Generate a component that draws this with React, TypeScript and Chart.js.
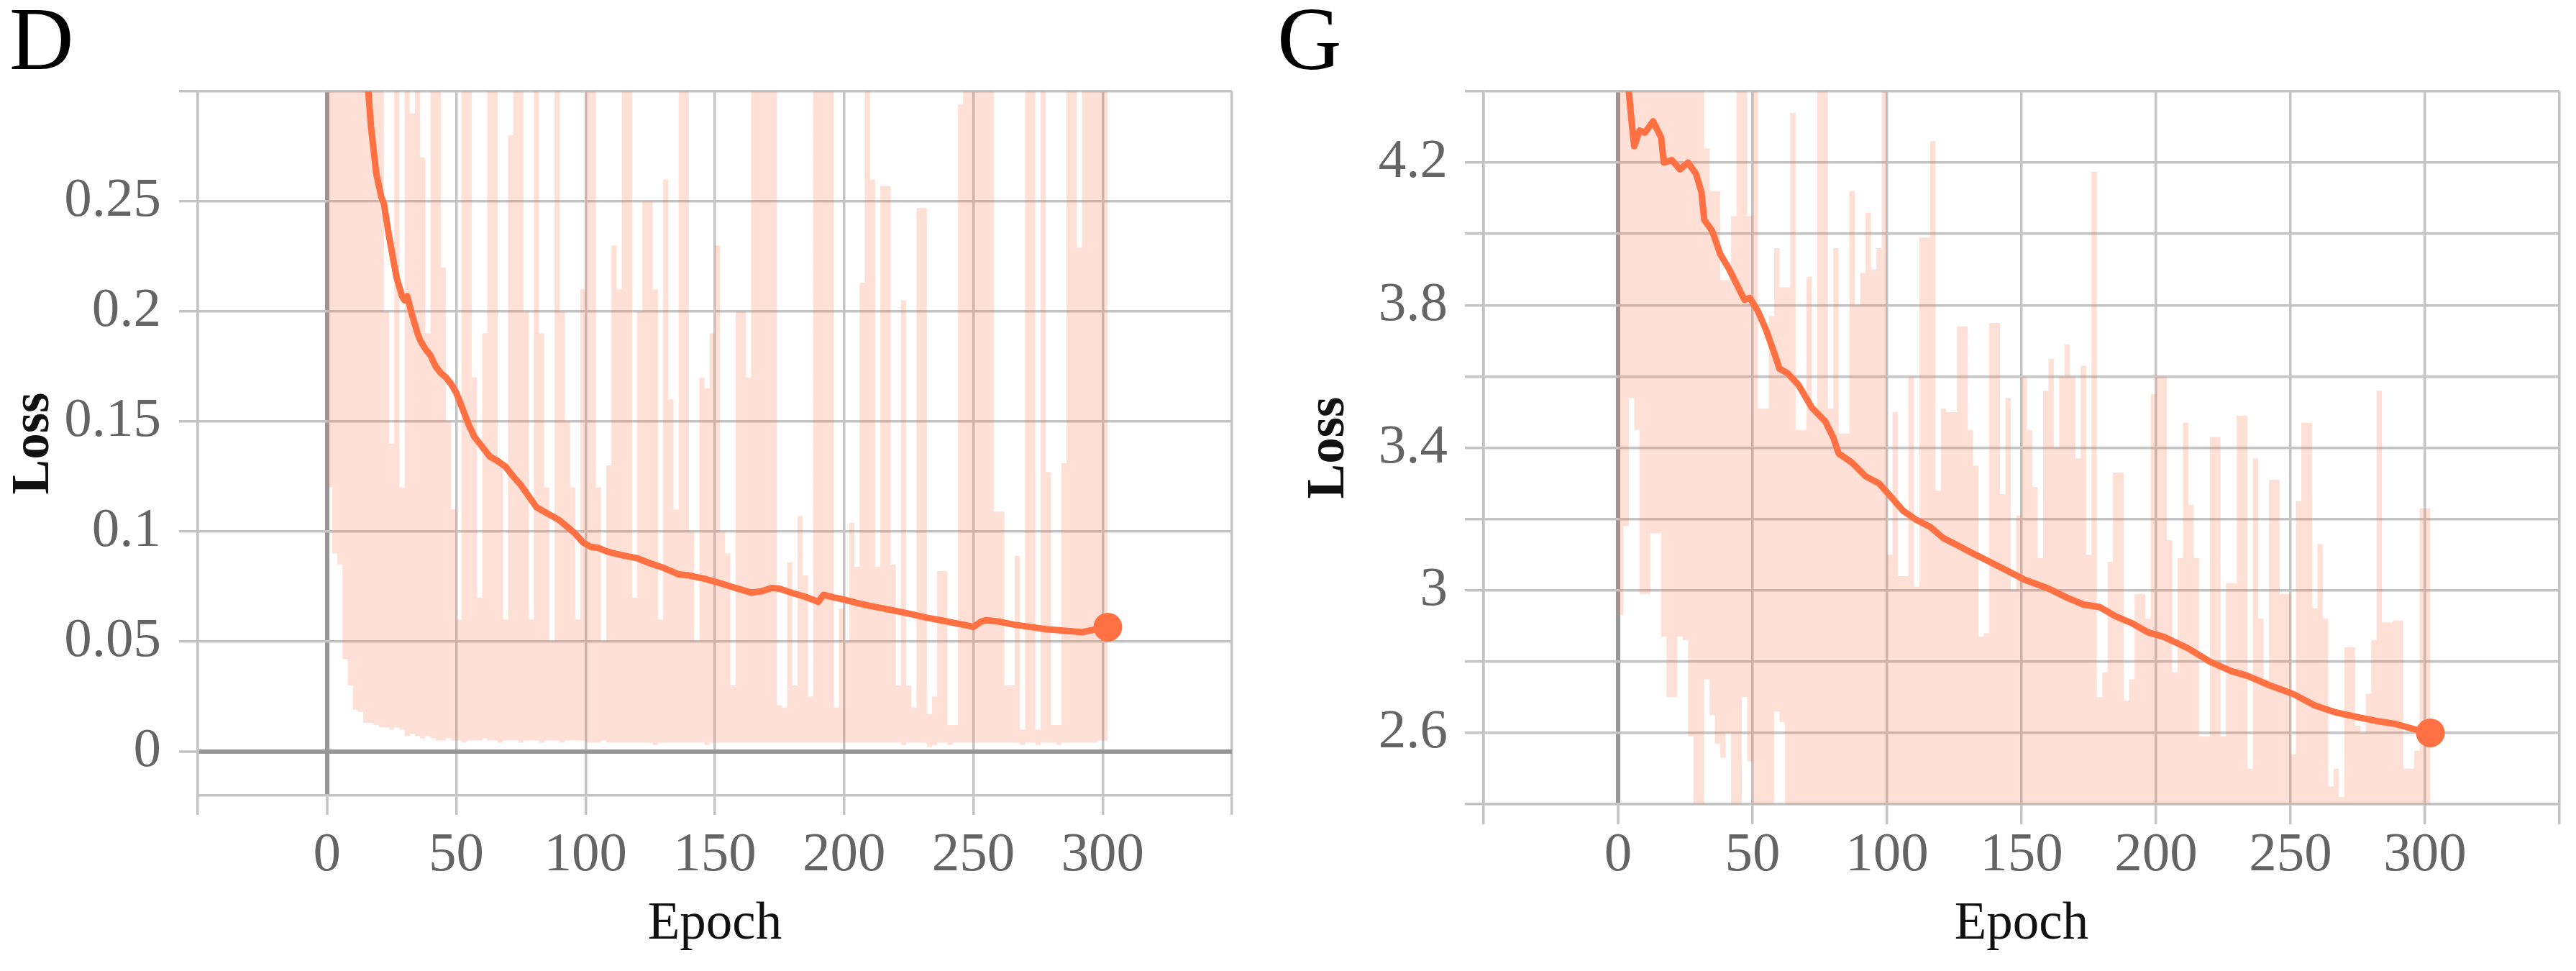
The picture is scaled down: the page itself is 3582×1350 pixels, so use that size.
import React, { useEffect, useRef } from 'react';
import { Chart, registerables } from 'chart.js';

Chart.register(...registerables);

const FONT = "'Liberation Serif', 'Times New Roman', serif";
const ORANGE = '#ff7043';
const PINK = 'rgba(255, 112, 67, 0.22)';
const GRID = '#c4c4c4';
const ZERO = '#969696';
const TICK_TEXT = '#646464';

// ---------- shared axis data ----------
const EPOCH_TICKS = [-50, 0, 50, 100, 150, 200, 250, 300, 350];
const EPOCH_LABELS = [0, 50, 100, 150, 200, 250, 300];
const RAW_BIN = 2; // each raw band covers 2 epochs, starting at epoch 0

// ---------- panel D ----------
const D_Y_TICKS = [0, 0.05, 0.1, 0.15, 0.2, 0.25, 0.3];
const D_Y_LABELS = [0, 0.05, 0.1, 0.15, 0.2, 0.25];

const D_SMOOTH_EPOCHS = [
  0, 4, 8, 12, 15, 17, 19, 21, 22, 24, 26, 27, 29, 30, 31, 33, 35, 36, 38, 40,
  42, 44, 46, 48, 50, 52, 55, 57, 59, 61, 63, 66, 69, 72, 75, 78, 81, 84, 87, 90,
  93, 96, 99, 102, 105, 108, 111, 115, 120, 125, 130, 133, 136, 140, 146, 152, 158, 164, 168, 172,
  175, 180, 185, 190, 192, 196, 200, 205, 209, 215, 220, 226, 232, 238, 243, 248, 250, 253, 255, 260,
  266, 272, 278, 284, 289, 292, 295, 298, 302,
];
const D_SMOOTH_LOSS = [
  0.62, 0.5, 0.42, 0.355, 0.315, 0.284, 0.263, 0.252, 0.249, 0.234, 0.221, 0.215, 0.207, 0.205, 0.207, 0.198, 0.19, 0.187, 0.183, 0.18,
  0.175, 0.172, 0.17, 0.167, 0.163, 0.157, 0.148, 0.143, 0.14, 0.137, 0.134, 0.132, 0.1295, 0.125, 0.121, 0.116, 0.111, 0.109, 0.107, 0.105,
  0.102, 0.099, 0.095, 0.093, 0.0925, 0.091, 0.09, 0.089, 0.0878, 0.0855, 0.0835, 0.082, 0.0805, 0.08, 0.0785, 0.0765, 0.0743, 0.0722, 0.0728, 0.0743,
  0.074, 0.072, 0.0703, 0.068, 0.0712, 0.07, 0.069, 0.0675, 0.0664, 0.065, 0.0639, 0.0624, 0.0608, 0.0595, 0.0583, 0.0572, 0.0566, 0.059, 0.0597, 0.059,
  0.0576, 0.0566, 0.0556, 0.055, 0.0545, 0.0542, 0.055, 0.0555, 0.0565,
];
const D_RAW_LOW = [
  0.15, 0.12, 0.09, 0.085, 0.042, 0.03, 0.019, 0.018, 0.013, 0.013, 0.012, 0.011, 0.011, 0.01, 0.011, 0.01, 0.007, 0.008, 0.007, 0.006,
  0.007, 0.006, 0.005, 0.005, 0.006, 0.005, 0.005, 0.004, 0.005, 0.005, 0.005, 0.006, 0.005, 0.005, 0.004, 0.005, 0.005, 0.005, 0.004, 0.005,
  0.005, 0.005, 0.004, 0.005, 0.005, 0.005, 0.004, 0.005, 0.005, 0.005, 0.005, 0.004, 0.004, 0.004, 0.005, 0.004, 0.004, 0.004, 0.004, 0.004,
  0.004, 0.004, 0.004, 0.004, 0.003, 0.004, 0.004, 0.004, 0.004, 0.004, 0.004, 0.004, 0.004, 0.004, 0.003, 0.004, 0.004, 0.004, 0.004, 0.004,
  0.004, 0.004, 0.004, 0.004, 0.004, 0.004, 0.004, 0.004, 0.004, 0.004, 0.004, 0.004, 0.004, 0.004, 0.004, 0.004, 0.004, 0.004, 0.004, 0.004,
  0.004, 0.004, 0.004, 0.004, 0.004, 0.004, 0.004, 0.004, 0.004, 0.004, 0.004, 0.004, 0.003, 0.004, 0.004, 0.004, 0.004, 0.002, 0.003, 0.004,
  0.004, 0.003, 0.004, 0.004, 0.004, 0.004, 0.004, 0.004, 0.004, 0.004, 0.004, 0.004, 0.004, 0.004, 0.004, 0.003, 0.004, 0.004, 0.003, 0.004,
  0.004, 0.004, 0.003, 0.004, 0.004, 0.004, 0.004, 0.004, 0.004, 0.004, 0.005, 0.005,
];
const D_RAW_HIGH = [
  0.4, 0.4, 0.4, 0.4, 0.4, 0.4, 0.4, 0.4, 0.4, 0.4, 0.4, 0.4, 0.2, 0.14, 0.4, 0.12, 0.4, 0.29, 0.4, 0.27,
  0.19, 0.4, 0.4, 0.22, 0.15, 0.11, 0.06, 0.4, 0.4, 0.17, 0.07, 0.19, 0.4, 0.4, 0.13, 0.06, 0.28, 0.4, 0.4, 0.2,
  0.06, 0.4, 0.19, 0.12, 0.05, 0.4, 0.2, 0.15, 0.12, 0.06, 0.21, 0.4, 0.4, 0.12, 0.05, 0.13, 0.23, 0.21, 0.4, 0.4,
  0.07, 0.2, 0.25, 0.25, 0.21, 0.06, 0.26, 0.16, 0.11, 0.4, 0.4, 0.1, 0.05, 0.17, 0.165, 0.19, 0.23, 0.1, 0.09, 0.03,
  0.2, 0.2, 0.17, 0.4, 0.4, 0.4, 0.4, 0.4, 0.021, 0.02, 0.086, 0.03, 0.107, 0.08, 0.025, 0.4, 0.4, 0.4, 0.4, 0.02,
  0.065, 0.05, 0.104, 0.084, 0.213, 0.4, 0.26, 0.084, 0.257, 0.257, 0.085, 0.03, 0.205, 0.03, 0.02, 0.247, 0.247, 0.017, 0.025, 0.082,
  0.082, 0.012, 0.012, 0.294, 0.4, 0.4, 0.4, 0.4, 0.4, 0.4, 0.109, 0.109, 0.03, 0.03, 0.089, 0.01, 0.4, 0.4, 0.01, 0.4,
  0.127, 0.012, 0.012, 0.131, 0.4, 0.4, 0.229, 0.4, 0.4, 0.4, 0.4, 0.4,
];

// ---------- panel G ----------
const G_Y_TICKS = [2.4, 2.6, 2.8, 3, 3.2, 3.4, 3.6, 3.8, 4, 4.2, 4.4];
const G_Y_LABELS = [2.6, 3, 3.4, 3.8, 4.2];

const G_SMOOTH_EPOCHS = [
  0, 2, 4, 5, 6, 8, 10, 13, 16, 17, 20, 23, 26, 29, 31, 32, 35, 38, 41, 44,
  47, 49, 52, 55, 58, 60, 63, 67, 72, 77, 80, 82, 87, 92, 97, 100, 106, 111, 116, 121,
  126, 131, 136, 141, 146, 151, 160, 167, 173, 179, 185, 191, 197, 203, 212, 220, 228, 234, 242, 251,
  259, 267, 275, 283, 289, 298, 302,
];
const G_SMOOTH_LOSS = [
  4.62, 4.5, 4.4, 4.316, 4.246, 4.29, 4.284, 4.316, 4.271, 4.2, 4.207, 4.181, 4.2, 4.168, 4.117, 4.04, 4.008, 3.943, 3.905, 3.86,
  3.815, 3.82, 3.783, 3.731, 3.667, 3.622, 3.609, 3.577, 3.513, 3.474, 3.429, 3.384, 3.358, 3.32, 3.3, 3.275, 3.223, 3.197, 3.178, 3.146,
  3.127, 3.107, 3.088, 3.069, 3.05, 3.03, 3.005, 2.979, 2.96, 2.953, 2.927, 2.908, 2.882, 2.869, 2.837, 2.8, 2.773, 2.76, 2.734, 2.709,
  2.677, 2.657, 2.644, 2.632, 2.625, 2.606, 2.6,
];
const G_RAW_LOW = [
  2.93, 2.93, 3.18, 3.54, 3.45, 2.99, 2.99, 3.16, 3.16, 2.87, 2.7, 2.7, 2.87, 2.86, 2.59, 2.3, 2.3, 2.75, 2.65, 2.57,
  2.53, 2.6, 2.3, 2.3, 2.7, 2.52, 2.3, 2.3, 2.3, 2.3, 2.66, 2.63, 2.3, 2.3, 2.3, 2.3, 2.3, 2.3, 2.3, 2.3,
  2.3, 2.3, 2.3, 2.3, 2.3, 2.3, 2.3, 2.3, 2.3, 2.3, 2.3, 2.3, 2.3, 2.3, 2.3, 2.3, 2.3, 2.3, 2.3, 2.3,
  2.3, 2.3, 2.3, 2.3, 2.3, 2.3, 2.3, 2.3, 2.3, 2.3, 2.3, 2.3, 2.3, 2.3, 2.3, 2.3, 2.3, 2.3, 2.3, 2.3,
  2.3, 2.3, 2.3, 2.3, 2.3, 2.3, 2.3, 2.3, 2.3, 2.3, 2.3, 2.3, 2.3, 2.3, 2.3, 2.3, 2.3, 2.3, 2.3, 2.3,
  2.3, 2.3, 2.3, 2.3, 2.3, 2.3, 2.3, 2.3, 2.3, 2.3, 2.3, 2.3, 2.3, 2.3, 2.3, 2.3, 2.3, 2.3, 2.3, 2.3,
  2.3, 2.3, 2.3, 2.3, 2.3, 2.3, 2.3, 2.3, 2.3, 2.3, 2.3, 2.3, 2.3, 2.3, 2.3, 2.3, 2.3, 2.3, 2.3, 2.3,
  2.3, 2.3, 2.3, 2.3, 2.3, 2.3, 2.3, 2.3, 2.3, 2.3, 2.3, 2.3,
];
const G_RAW_HIGH = [
  4.6, 4.6, 4.6, 4.6, 4.6, 4.6, 4.6, 4.6, 4.6, 4.6, 4.6, 4.6, 4.6, 4.6, 4.6, 4.6, 4.6, 4.24, 4.12, 4.12,
  3.87, 3.87, 4.05, 4.6, 4.6, 4.05, 4.6, 3.51, 3.51, 3.77, 3.96, 3.85, 3.85, 4.34, 3.45, 3.45, 3.88, 3.51, 4.6, 4.6,
  3.51, 3.96, 3.44, 3.44, 4.12, 3.8, 3.89, 4.06, 3.9, 3.96, 4.6, 3.1, 3.5, 3.04, 3.04, 3.6, 3.01, 3.99, 3.99, 4.26,
  3.28, 3.51, 3.5, 3.5, 3.74, 3.74, 3.45, 3.35, 2.87, 2.88, 3.75, 3.75, 3.27, 3.54, 3.0, 3.21, 3.6, 3.45, 3.29, 3.09,
  3.56, 3.65, 3.4, 3.6, 3.69, 3.6, 3.37, 3.63, 3.1, 4.175, 2.7, 2.77, 3.08, 3.33, 3.33, 2.69, 2.75, 2.99, 2.99, 2.92,
  3.55, 3.6, 3.6, 3.14, 2.77, 3.09, 3.47, 3.24, 3.09, 2.59, 2.59, 3.43, 3.43, 2.59, 3.02, 3.02, 3.49, 3.49, 2.5, 3.37,
  2.92, 2.75, 3.31, 3.31, 2.99, 2.99, 2.54, 3.25, 3.47, 3.47, 2.95, 3.13, 2.92, 2.45, 2.5, 2.42, 2.84, 2.84, 2.62, 2.6,
  2.71, 2.86, 3.56, 2.91, 2.91, 2.915, 2.915, 2.5, 2.5, 2.55, 3.23, 3.23,
];

type PanelSpec = {
  letter: string;
  left: number;
  letterLeft: number;
  yMin: number;
  yMax: number;
  yTicks: number[];
  yLabels: number[];
  smoothEpochs: number[];
  smoothLoss: number[];
  rawLow: number[];
  rawHigh: number[];
  yAxisWidth: number;
  xAxisHeight: number;
  padRight: number;
  yTitlePad: number;
  yTickLen: number;
  yTickPad: number;
  xTickLen: number;
  xTickPad: number;
};

const PANEL_W = 1791;
const PANEL_H = 1350;

const PANELS: PanelSpec[] = [
  {
    letter: 'D', left: 0, letterLeft: 13,
    yMin: -0.02, yMax: 0.3, yTicks: D_Y_TICKS, yLabels: D_Y_LABELS,
    smoothEpochs: D_SMOOTH_EPOCHS, smoothLoss: D_SMOOTH_LOSS,
    rawLow: D_RAW_LOW, rawHigh: D_RAW_HIGH,
    yAxisWidth: 275, xAxisHeight: 244, padRight: 78, yTitlePad: 4,
    yTickLen: 26, yTickPad: 25, xTickLen: 27, xTickPad: 18,
  },
  {
    letter: 'G', left: 1791, letterLeft: 1776,
    yMin: 2.4, yMax: 4.4, yTicks: G_Y_TICKS, yLabels: G_Y_LABELS,
    smoothEpochs: G_SMOOTH_EPOCHS, smoothLoss: G_SMOOTH_LOSS,
    rawLow: G_RAW_LOW, rawHigh: G_RAW_HIGH,
    yAxisWidth: 272, xAxisHeight: 232, padRight: 23, yTitlePad: 14,
    yTickLen: 26, yTickPad: 24, xTickLen: 28, xTickPad: 5,
  },
];

const gridColor = (ctx: any) => (ctx.tick && ctx.tick.value === 0 ? ZERO : GRID);
const gridWidth = (ctx: any) => (ctx.tick && ctx.tick.value === 0 ? 6 : 3.5);

function LossPanel({ p }: { p: PanelSpec }) {
  const ref = useRef<HTMLCanvasElement | null>(null);

  useEffect(() => {
    const canvas = ref.current;
    if (!canvas) return;
    // raw loss spread per 2-epoch bin: upper and lower edge, drawn as a stepped band
    const rawTop = p.rawHigh.map((v, i) => ({ x: i * RAW_BIN, y: v }));
    const rawBottom = p.rawLow.map((v, i) => ({ x: i * RAW_BIN, y: v }));
    const smooth = p.smoothEpochs.map((e, i) => ({ x: e, y: p.smoothLoss[i] }));
    const lastIdx = smooth.length - 1;

    const chart = new Chart(canvas, {
      type: 'line',
      data: {
        datasets: [
          {
            data: smooth as any,
            borderColor: ORANGE,
            backgroundColor: ORANGE,
            borderWidth: 9,
            tension: 0,
            fill: false,
            borderJoinStyle: 'round',
            borderCapStyle: 'round',
            pointRadius: (ctx: any) => (ctx.dataIndex === lastIdx ? 20 : 0),
            pointBackgroundColor: ORANGE,
            pointBorderWidth: 0,
            order: 0,
          } as any,
          {
            data: rawTop as any,
            stepped: 'after',
            borderWidth: 0,
            borderColor: 'rgba(0,0,0,0)',
            backgroundColor: PINK,
            pointRadius: 0,
            fill: '+1',
            order: 1,
          } as any,
          {
            data: rawBottom as any,
            stepped: 'after',
            borderWidth: 0,
            borderColor: 'rgba(0,0,0,0)',
            backgroundColor: 'rgba(0,0,0,0)',
            pointRadius: 0,
            fill: false,
            order: 2,
          } as any,
        ],
      },
      options: {
        responsive: false,
        animation: false,
        devicePixelRatio: 1,
        events: [],
        layout: { padding: { left: 0, top: 127, right: p.padRight, bottom: 0 } },
        plugins: { legend: { display: false }, tooltip: { enabled: false } },
        scales: {
          x: {
            type: 'linear',
            min: -50,
            max: 350,
            offset: false,
            afterBuildTicks: (s: any) => {
              s.ticks = EPOCH_TICKS.map((v) => ({ value: v }));
            },
            afterFit: (s: any) => {
              s.height = p.xAxisHeight;
            },
            ticks: {
              autoSkip: false,
              maxRotation: 0,
              minRotation: 0,
              padding: p.xTickPad,
              color: TICK_TEXT,
              font: { family: FONT, size: 77, lineHeight: 1 },
              callback: (v: any) => (EPOCH_LABELS.includes(Number(v)) ? String(v) : ''),
            },
            grid: {
              offset: false,
              color: gridColor,
              lineWidth: gridWidth,
              tickLength: p.xTickLen,
              tickColor: GRID,
              tickWidth: 3.5,
            },
            border: { display: true, color: GRID, width: 3.5 },
            title: {
              display: true,
              text: 'Epoch',
              color: '#111111',
              font: { family: FONT, size: 73 },
              padding: { top: 0, bottom: 20 },
            },
          },
          y: {
            type: 'linear',
            min: p.yMin,
            max: p.yMax,
            afterBuildTicks: (s: any) => {
              s.ticks = p.yTicks.map((v) => ({ value: v }));
            },
            afterFit: (s: any) => {
              s.width = p.yAxisWidth;
            },
            ticks: {
              autoSkip: false,
              padding: p.yTickPad,
              color: TICK_TEXT,
              font: { family: FONT, size: 77 },
              callback: (v: any) => (p.yLabels.includes(Number(v)) ? String(v) : ''),
            },
            grid: {
              color: gridColor,
              lineWidth: gridWidth,
              tickLength: p.yTickLen,
              tickColor: GRID,
              tickWidth: 3.5,
            },
            border: { display: true, color: GRID, width: 3.5 },
            title: {
              display: true,
              text: 'Loss',
              color: '#111111',
              font: { family: FONT, size: 73, weight: 'bold' },
              padding: { top: p.yTitlePad, bottom: 0 },
            },
          },
        },
      } as any,
    });
    return () => chart.destroy();
  }, [p]);

  return (
    <>
      <canvas
        ref={ref}
        width={PANEL_W}
        height={PANEL_H}
        style={{ position: 'absolute', left: p.left, top: 0, width: PANEL_W, height: PANEL_H }}
      />
      <div
        style={{
          position: 'absolute',
          left: p.letterLeft,
          top: -7,
          fontFamily: FONT,
          fontSize: 124,
          lineHeight: 1,
          color: '#000',
        }}
      >
        {p.letter}
      </div>
    </>
  );
}

export default function App() {
  return (
    <div
      style={{
        position: 'fixed',
        left: 0,
        top: 0,
        width: 3582,
        height: 1350,
        background: '#ffffff',
        overflow: 'hidden',
      }}
    >
      {PANELS.map((p) => (
        <LossPanel key={p.letter} p={p} />
      ))}
    </div>
  );
}
